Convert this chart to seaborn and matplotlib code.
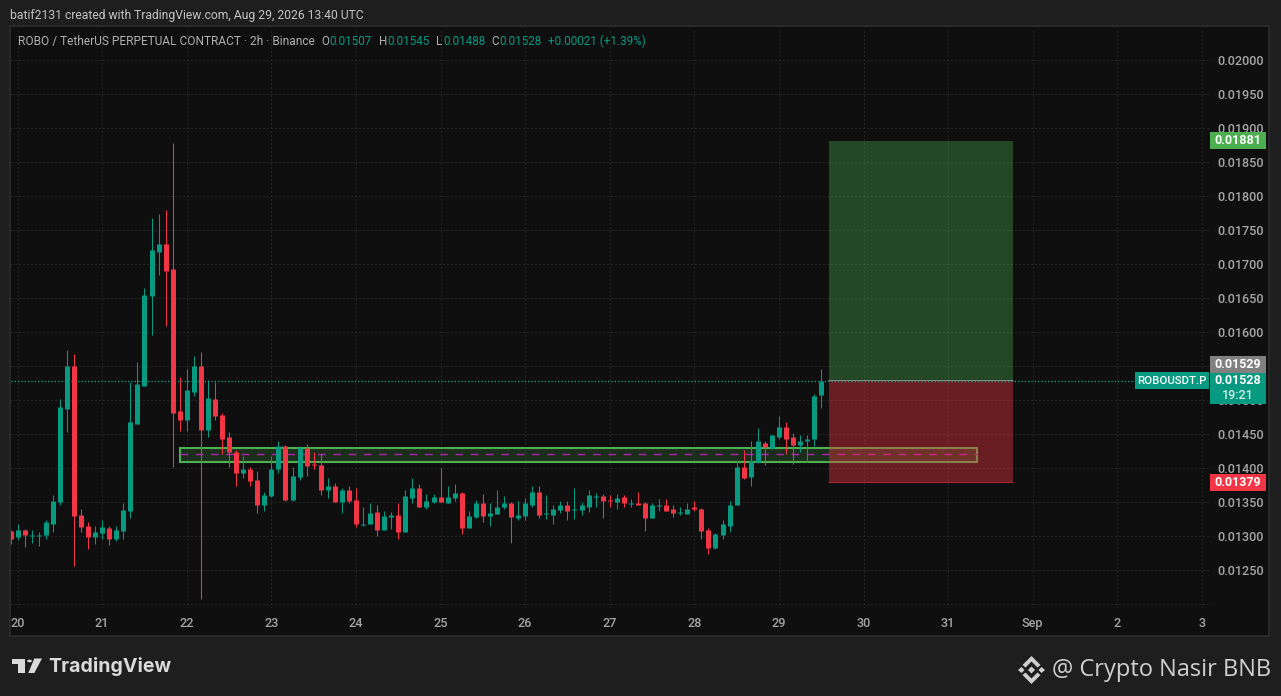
import matplotlib
matplotlib.use("Agg")
import matplotlib.pyplot as plt
from matplotlib.colors import to_rgba
from matplotlib.patches import Circle, Polygon, Rectangle
import pandas as pd
import seaborn as sns

# 2h candles, first one is the bar just before the 20th
opens = [0.01308, 0.01298, 0.01309, 0.01300, 0.01300, 0.01301, 0.01318, 0.01350, 0.01487, 0.01550, 0.01331, 0.01315,
         0.01298, 0.01305, 0.01312, 0.01295, 0.01308, 0.01337, 0.01465, 0.01521, 0.01653, 0.01718, 0.01730, 0.01693,
         0.01484, 0.01471, 0.01512, 0.01550, 0.01456, 0.01502, 0.01478, 0.01445, 0.01423, 0.01393, 0.01398, 0.01383,
         0.01346, 0.01359, 0.01398, 0.01433, 0.01353, 0.01387, 0.01430, 0.01406, 0.01405, 0.01368, 0.01374, 0.01350,
         0.01367, 0.01353, 0.01316, 0.01318, 0.01336, 0.01309, 0.01328, 0.01331, 0.01306, 0.01356, 0.01371, 0.01342,
         0.01350, 0.01358, 0.01349, 0.01356, 0.01364, 0.01312, 0.01328, 0.01349, 0.01330, 0.01333, 0.01342, 0.01349,
         0.01327, 0.01330, 0.01346, 0.01365, 0.01332, 0.01331, 0.01339, 0.01345, 0.01338, 0.01339, 0.01343, 0.01357,
         0.01359, 0.01353, 0.01350, 0.01358, 0.01347, 0.01349, 0.01348, 0.01326, 0.01344, 0.01346, 0.01340, 0.01334,
         0.01333, 0.01342, 0.01340, 0.01309, 0.01283, 0.01302, 0.01315, 0.01345, 0.01402, 0.01387, 0.01409, 0.01437,
         0.01430, 0.01446, 0.01461, 0.01445, 0.01434, 0.01439, 0.01442, 0.01507]
highs = [0.01309, 0.01318, 0.01311, 0.01309, 0.01306, 0.01324, 0.01361, 0.01501, 0.01573, 0.01568, 0.01340, 0.01321,
         0.01315, 0.01324, 0.01315, 0.01315, 0.01349, 0.01526, 0.01556, 0.01664, 0.01767, 0.01773, 0.01780, 0.01878,
         0.01534, 0.01545, 0.01564, 0.01571, 0.01530, 0.01526, 0.01481, 0.01453, 0.01426, 0.01417, 0.01402, 0.01396,
         0.01365, 0.01418, 0.01439, 0.01434, 0.01402, 0.01433, 0.01436, 0.01423, 0.01420, 0.01386, 0.01378, 0.01371,
         0.01374, 0.01370, 0.01343, 0.01349, 0.01345, 0.01337, 0.01336, 0.01349, 0.01367, 0.01386, 0.01377, 0.01362,
         0.01362, 0.01400, 0.01374, 0.01377, 0.01365, 0.01337, 0.01353, 0.01362, 0.01349, 0.01368, 0.01359, 0.01350,
         0.01352, 0.01356, 0.01373, 0.01374, 0.01361, 0.01346, 0.01352, 0.01352, 0.01371, 0.01350, 0.01367, 0.01364,
         0.01362, 0.01361, 0.01362, 0.01361, 0.01355, 0.01365, 0.01350, 0.01348, 0.01355, 0.01355, 0.01345, 0.01342,
         0.01348, 0.01352, 0.01341, 0.01312, 0.01304, 0.01323, 0.01352, 0.01412, 0.01427, 0.01439, 0.01459, 0.01440,
         0.01449, 0.01477, 0.01467, 0.01452, 0.01448, 0.01448, 0.01509, 0.01545]
lows = [0.01288, 0.01294, 0.01284, 0.01290, 0.01286, 0.01295, 0.01306, 0.01346, 0.01453, 0.01256, 0.01306, 0.01281,
        0.01289, 0.01296, 0.01287, 0.01292, 0.01296, 0.01327, 0.01465, 0.01521, 0.01596, 0.01684, 0.01609, 0.01402,
        0.01455, 0.01455, 0.01506, 0.01208, 0.01445, 0.01470, 0.01420, 0.01402, 0.01374, 0.01386, 0.01374, 0.01334,
        0.01337, 0.01358, 0.01393, 0.01352, 0.01352, 0.01383, 0.01389, 0.01399, 0.01361, 0.01356, 0.01350, 0.01334,
        0.01349, 0.01314, 0.01315, 0.01318, 0.01300, 0.01309, 0.01311, 0.01296, 0.01306, 0.01348, 0.01342, 0.01340,
        0.01349, 0.01350, 0.01348, 0.01352, 0.01303, 0.01312, 0.01327, 0.01321, 0.01315, 0.01333, 0.01340, 0.01290,
        0.01324, 0.01323, 0.01343, 0.01327, 0.01325, 0.01318, 0.01334, 0.01323, 0.01325, 0.01331, 0.01336, 0.01343,
        0.01327, 0.01343, 0.01340, 0.01342, 0.01343, 0.01346, 0.01308, 0.01326, 0.01337, 0.01337, 0.01328, 0.01331,
        0.01333, 0.01337, 0.01296, 0.01273, 0.01281, 0.01296, 0.01306, 0.01345, 0.01384, 0.01373, 0.01408, 0.01405,
        0.01428, 0.01443, 0.01421, 0.01406, 0.01424, 0.01409, 0.01433, 0.01488]
closes = [0.01296, 0.01309, 0.01302, 0.01302, 0.01302, 0.01321, 0.01352, 0.01489, 0.01550, 0.01330, 0.01314, 0.01298,
          0.01306, 0.01314, 0.01295, 0.01309, 0.01339, 0.01467, 0.01523, 0.01655, 0.01721, 0.01730, 0.01690, 0.01481,
          0.01471, 0.01514, 0.01550, 0.01456, 0.01503, 0.01477, 0.01443, 0.01423, 0.01393, 0.01398, 0.01381, 0.01346,
          0.01361, 0.01399, 0.01433, 0.01353, 0.01389, 0.01430, 0.01403, 0.01404, 0.01368, 0.01374, 0.01350, 0.01367,
          0.01352, 0.01317, 0.01318, 0.01334, 0.01309, 0.01330, 0.01331, 0.01306, 0.01359, 0.01371, 0.01342, 0.01352,
          0.01358, 0.01350, 0.01358, 0.01364, 0.01312, 0.01330, 0.01349, 0.01330, 0.01334, 0.01343, 0.01349, 0.01328,
          0.01331, 0.01349, 0.01365, 0.01331, 0.01334, 0.01340, 0.01345, 0.01337, 0.01340, 0.01346, 0.01361, 0.01359,
          0.01352, 0.01351, 0.01356, 0.01348, 0.01349, 0.01346, 0.01326, 0.01346, 0.01346, 0.01337, 0.01334, 0.01336,
          0.01340, 0.01340, 0.01308, 0.01283, 0.01303, 0.01317, 0.01346, 0.01402, 0.01386, 0.01411, 0.01439, 0.01431,
          0.01448, 0.01461, 0.01443, 0.01434, 0.01440, 0.01443, 0.01506, 0.01528]
first_bar = -1

day_labels = ["20", "21", "22", "23", "24", "25", "26", "27", "28", "29", "30", "31", "Sep", "2", "3"]
bars_per_day = 12
price_ticks = [0.012, 0.0125, 0.013, 0.0135, 0.014, 0.0145, 0.015, 0.0155, 0.016, 0.0165, 0.017, 0.0175, 0.018,
               0.0185, 0.019, 0.0195, 0.020]

last_price = 0.01528
entry_price = 0.01529
target_price = 0.01881
stop_price = 0.01379
zone_low, zone_mid, zone_high = 0.01409, 0.01420, 0.01430

GREEN = "#089981"
RED = "#F23645"
BG = "#1E1E1E"
PANEL = "#0F0F0F"
GRID = "#3C3C3C"
LABEL = "#A6A6A6"

W, H = 1281, 696
sns.set_theme(style="dark", rc={"lines.solid_capstyle": "butt"})
plt.rcParams["font.family"] = ["Roboto", "DejaVu Sans"]

candles = pd.DataFrame({"open": opens, "high": highs, "low": lows, "close": closes})
candles["bar"] = range(first_bar, first_bar + len(candles))
candles["side"] = ["up" if c >= o else "down" for o, c in zip(opens, closes)]

wicks = candles.melt(id_vars=["bar", "side"], value_vars=["high", "low"], value_name="price")
bodies = candles.melt(id_vars=["bar", "side"], value_vars=["open", "close"], value_name="price")

fig = plt.figure(figsize=(W / 100, H / 100), dpi=100, facecolor=BG)


def fx(x):
    return x / W


def fy(y):
    return 1 - y / H


def shape(points, color):
    fig.add_artist(Polygon([(fx(x), fy(y)) for x, y in points], closed=True, color=color, lw=0,
                           transform=fig.transFigure))


def screen_text(x, y, s, **kw):
    kw.setdefault("va", "center")
    fig.text(fx(x), fy(y), s, **kw)


# panel behind chart and scales
fig.add_artist(Rectangle((fx(10), fy(636)), 1259 / W, 610 / H, transform=fig.transFigure, facecolor=PANEL,
                         edgecolor="#2A2A2A", lw=1.4, zorder=-1))

ax = fig.add_axes([fx(10.5), fy(607.7), 1198.5 / W, 580 / H], facecolor=PANEL)

# pixel scale: 7.05 px per bar, 68000 px per unit of price
day_ticks = [i * bars_per_day for i in range(len(day_labels))]
ax.set_xticks(day_ticks)
ax.set_xticklabels(day_labels)
ax.yaxis.tick_right()
ax.set_yticks(price_ticks)
ax.set_yticklabels([""] + [f"{p:.5f}" for p in price_ticks[1:]])
ax.tick_params(axis="both", length=0, colors=LABEL, labelsize=9.1)
ax.tick_params(axis="x", pad=6.5)
ax.tick_params(axis="y", pad=6)
for lab in ax.get_xticklabels() + ax.get_yticklabels():
    lab.set_fontweight("medium")
ax.grid(True, color=GRID, lw=0.72, ls=(0, (1, 3)))
ax.set_axisbelow(True)
for s in ax.spines.values():
    s.set_visible(False)

# zone and long position box
ax.add_patch(Rectangle((23.1, zone_low), 113.0, zone_high - zone_low, facecolor=to_rgba("#4CAF50", 0.2),
                       edgecolor="#4CAF50", lw=1.5, zorder=1.5))
ax.plot([23.1, 136.1], [zone_mid, zone_mid], color="#B020B0", lw=1.0, ls=(0, (5.5, 5.5)), zorder=1.6)
ax.add_patch(Rectangle((115.1, entry_price), 26.1, target_price - entry_price, facecolor="#4CAF50", alpha=0.36,
                       lw=0, zorder=1.8))
ax.add_patch(Rectangle((115.1, stop_price), 26.1, entry_price - stop_price, facecolor=RED, alpha=0.4,
                       lw=0, zorder=1.8))
ax.plot([115.0, 141.2], [entry_price, entry_price], color="#8A8A8A", lw=0.7, zorder=1.85)
ax.plot([115.0, 141.2], [stop_price, stop_price], color=RED, lw=0.7, alpha=0.7, zorder=1.85)

# last price line stops at the symbol tag
ax.axhline(last_price, xmin=0, xmax=1125 / 1198.5, color="#0AB394", lw=1.0, ls=(0, (0.8, 1.6)), zorder=1.9)

palette = {"up": GREEN, "down": RED}
sns.lineplot(data=wicks, x="bar", y="price", hue="side", units="bar", estimator=None, palette=palette,
             linewidth=0.75, legend=False, ax=ax, zorder=3)
sns.lineplot(data=bodies, x="bar", y="price", hue="side", units="bar", estimator=None, palette=palette,
             linewidth=3.6, legend=False, ax=ax, zorder=3.1)
ax.set_xlabel("")
ax.set_ylabel("")
ax.set_xlim(-1.0, 169.0)
ax.set_ylim(0.011946, 0.020475)


def price_tag(y_price, text, color, left=1210, width=56, height=17):
    trans = ax.get_yaxis_transform()
    x0 = (left - 10.5) / 1198.5
    dy = height / 68000 / 2
    ax.add_patch(Rectangle((x0, y_price - dy), width / 1198.5, 2 * dy, transform=trans, facecolor=color, lw=0,
                           clip_on=False, zorder=6))
    ax.text(x0 + width / 2 / 1198.5, y_price, text, transform=trans, ha="center", va="center", color="white",
            fontsize=9, fontweight="bold", clip_on=False, zorder=7)


price_tag(target_price, "0.01881", "#4CAF50")
price_tag(stop_price, "0.01379", RED)
price_tag(0.015527, "0.01529", "#808080")

# last price tag is taller, holds the bar countdown
trans = ax.get_yaxis_transform()
ax.add_patch(Rectangle(((1210 - 10.5) / 1198.5, last_price - 23 / 68000), 56 / 1198.5, 31 / 68000, transform=trans,
                       facecolor=GREEN, lw=0, clip_on=False, zorder=6))
ax.text((1238 - 10.5) / 1198.5, last_price, "0.01528", transform=trans, ha="center", va="center", color="white",
        fontsize=9, fontweight="bold", clip_on=False, zorder=7)
ax.text((1238 - 10.5) / 1198.5, last_price - 15 / 68000, "19:21", transform=trans, ha="center", va="center",
        color="#D5EEE9", fontsize=9, fontweight="medium", clip_on=False, zorder=7)
ax.add_patch(Rectangle(((1135 - 10.5) / 1198.5, last_price - 8.5 / 68000), 74 / 1198.5, 17 / 68000, transform=trans,
                       facecolor=GREEN, lw=0, clip_on=False, zorder=6))
ax.text((1172 - 10.5) / 1198.5, last_price, "ROBOUSDT.P", transform=trans, ha="center", va="center", color="white",
        fontsize=8.2, fontweight="medium", clip_on=False, zorder=7)

# header lines
screen_text(10, 15, "batif2131 created with TradingView.com, Aug 29, 2026 13:40 UTC", color="#C4C4C4", fontsize=8.7)
screen_text(18, 41.5, "ROBO / TetherUS PERPETUAL CONTRACT · 2h · Binance", color="#B0B0B0", fontsize=8.6)
for x, s, col in [(321.5, "O", "#B0B0B0"), (329.5, "0.01507", GREEN), (379, "H", "#B0B0B0"),
                  (387, "0.01545", GREEN), (436, "L", "#B0B0B0"), (443, "0.01488", GREEN),
                  (491.5, "C", "#B0B0B0"), (499, "0.01528", GREEN), (548.5, "+0.00021 (+1.39%)", GREEN)]:
    screen_text(x, 41.5, s, color=col, fontsize=8.4)

# TradingView logo
LOGO = "#DADADA"
shape([(12, 658.5), (25.3, 658.5), (25.3, 673), (18, 673), (18, 663.5), (12, 663.5)], LOGO)
shape([(34.3, 658.5), (42, 658.5), (34.3, 673), (28.3, 673)], LOGO)
fig.add_artist(Circle((fx(29.5), fy(661)), 2.4 / W, color=LOGO, lw=0, transform=fig.transFigure))
screen_text(48.5, 666, "TradingView", color=LOGO, fontsize=14.1, fontweight="bold", family=["Inter", "DejaVu Sans"])

# watermark on the right
MARK = "#CFCFCF"
cx, cy = 1031.5, 670
shape([(cx, cy - 3.5), (cx + 3.5, cy), (cx, cy + 3.5), (cx - 3.5, cy)], MARK)
shape([(cx - 10, cy - 3), (cx - 7, cy), (cx - 10, cy + 3), (cx - 13.5, cy)], MARK)
shape([(cx + 10, cy - 3), (cx + 13.5, cy), (cx + 10, cy + 3), (cx + 7, cy)], MARK)
shape([(cx, cy - 14), (cx + 9, cy - 5), (cx + 6, cy - 2.5), (cx, cy - 8.5), (cx - 6, cy - 2.5), (cx - 9, cy - 5)], MARK)
shape([(cx, cy + 14), (cx + 9, cy + 5), (cx + 6, cy + 2.5), (cx, cy + 8.5), (cx - 6, cy + 2.5), (cx - 9, cy + 5)], MARK)
screen_text(1052, 670, "@ Crypto Nasir BNB", color=MARK, fontsize=17, family=["Open Sans", "DejaVu Sans"])

fig.savefig("out.png", dpi=100, facecolor=BG)
